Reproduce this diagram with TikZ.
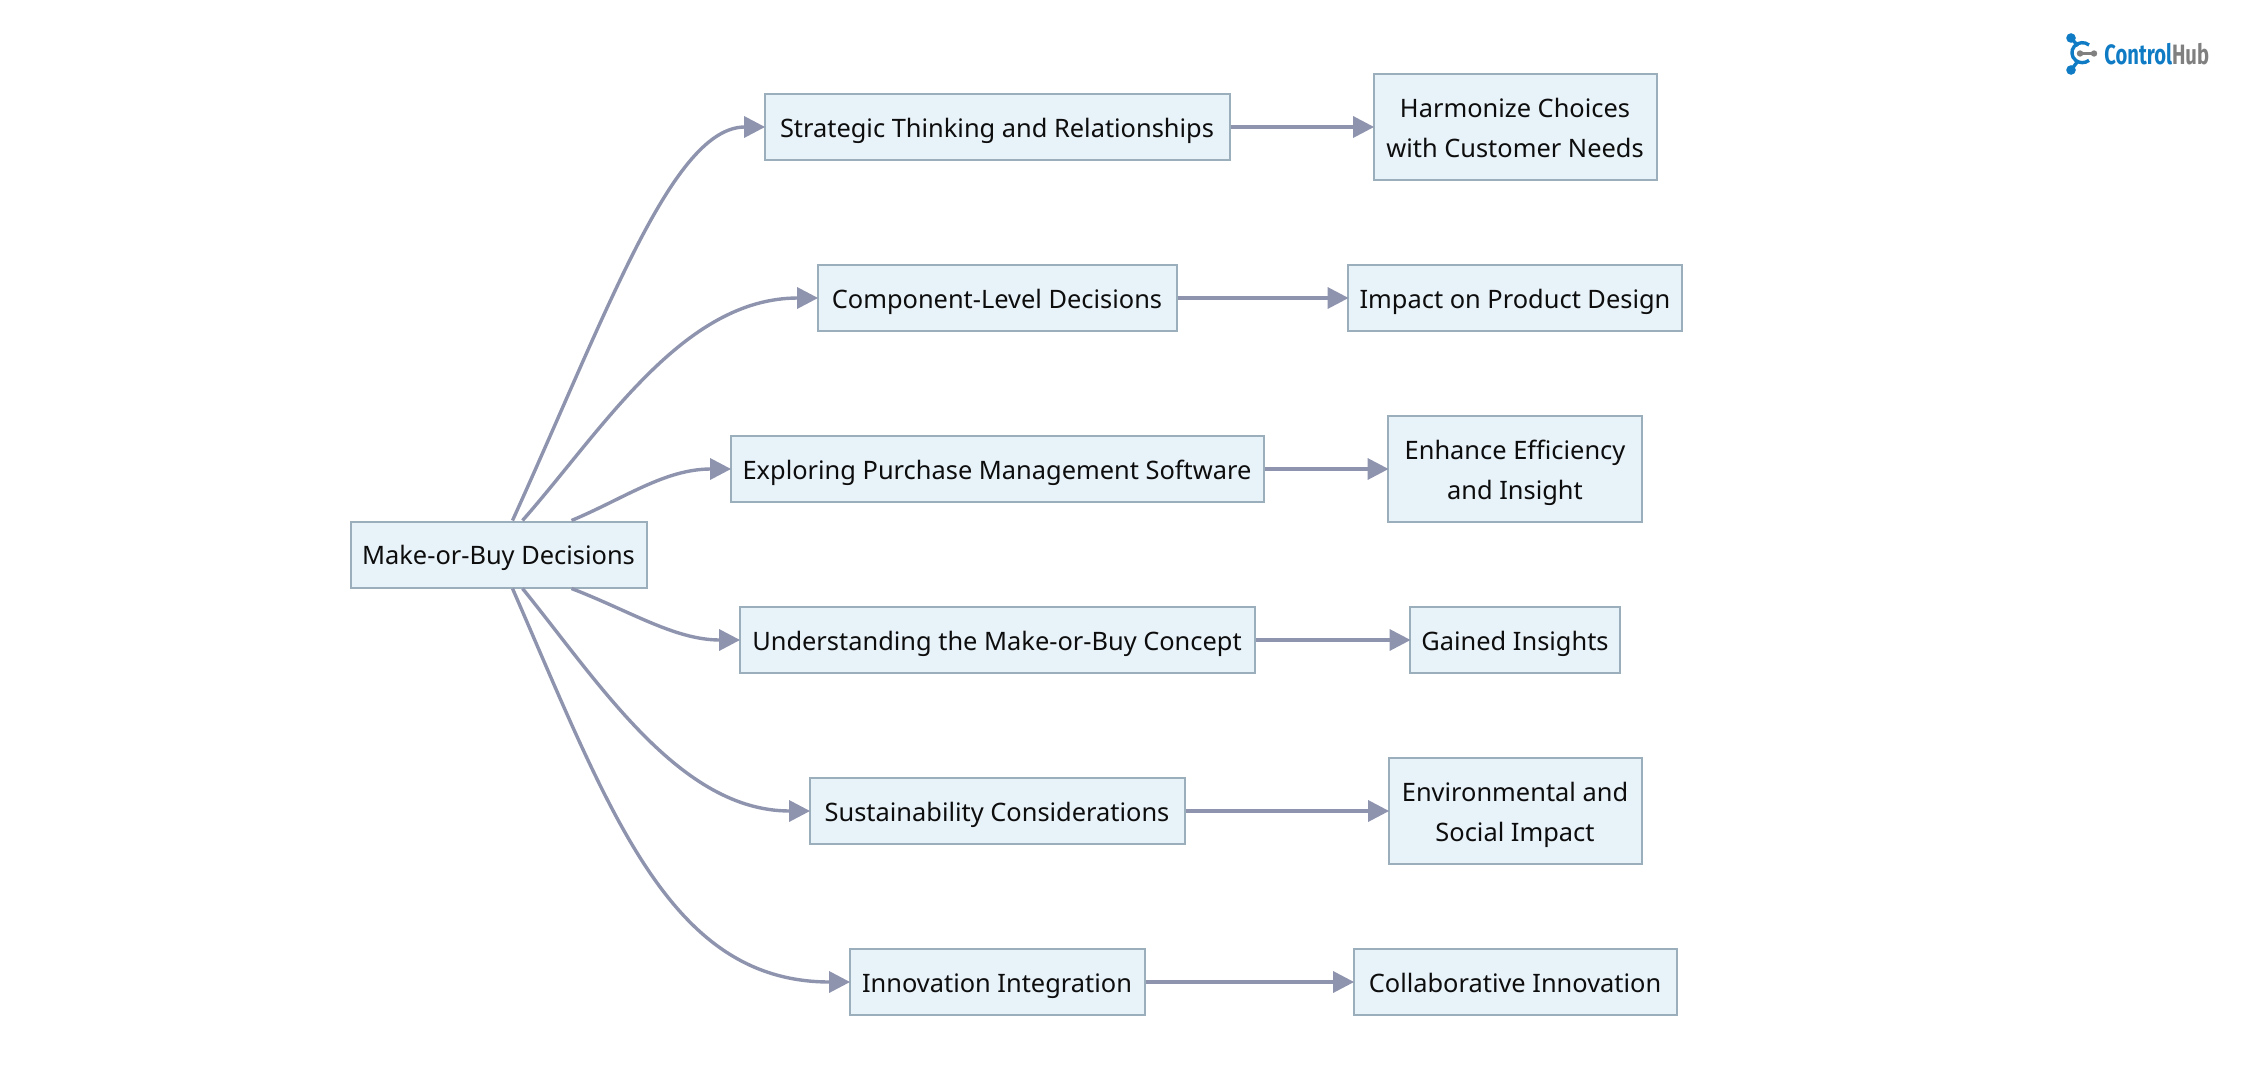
\documentclass[tikz,border=0pt]{standalone}
\usepackage{fontspec}
\setmainfont{Noto Sans}
\newfontfamily\logofont{Fira Sans}
\usetikzlibrary{arrows.meta,calc}
\definecolor{boxfill}{HTML}{E8F2F9}
\definecolor{boxline}{HTML}{9BAEBB}
\definecolor{edgecol}{HTML}{8F94AE}
\definecolor{logoblue}{HTML}{0F7BC4}
\definecolor{logogray}{HTML}{808080}
\tikzset{
 x=0.5pt,y=-0.5pt,
 box/.style={draw=boxline,fill=boxfill,line width=1pt,align=center,inner sep=0pt,font=\fontsize{12.7}{20}\selectfont,text=black!95},
 single/.style={box,minimum height=33pt,text height=12.5pt,text depth=2.5pt},
 double/.style={box,minimum height=53pt,text height=30.5pt,text depth=0pt},
 link/.style={draw=edgecol,line width=1.7pt,shorten >=-0.8pt,-{Triangle[length=10.5pt,width=10.5pt,fill=edgecol]}},
}
\begin{document}
\begin{tikzpicture}
\useasboundingbox (0,0) rectangle (2258,1086);
\node[single,minimum width=148pt] (root) at (498.5,554.5) {Make-or-Buy Decisions};
\node[single,minimum width=232.5pt] (a1) at (997,127) {Strategic Thinking and Relationships};
\node[single,minimum width=179.5pt] (a2) at (997,298) {Component-Level Decisions};
\node[single,minimum width=266.5pt] (a3) at (997,469) {Exploring Purchase Management Software};
\node[single,minimum width=257.5pt] (a4) at (997,640) {Understanding the Make-or-Buy Concept};
\node[single,minimum width=187.5pt] (a5) at (997,811) {Sustainability Considerations};
\node[single,minimum width=147.5pt] (a6) at (997,982) {Innovation Integration};
\node[double,minimum width=141.5pt] (b1) at (1515,127) {Harmonize Choices\\with Customer Needs};
\node[single,minimum width=167pt] (b2) at (1515,298) {Impact on Product Design};
\node[double,minimum width=127pt] (b3) at (1515,469) {Enhance Efficiency\\and Insight};
\node[single,minimum width=105pt] (b4) at (1515,640) {Gained Insights};
\node[double,minimum width=126.5pt] (b5) at (1515,811) {Environmental and\\Social Impact};
\node[single,minimum width=161.5pt] (b6) at (1515,982) {Collaborative Innovation};
\coordinate (t1) at ($(root.north west)+(81.5pt,0)$);
\coordinate (t2) at ($(root.north west)+(86.5pt,0)$);
\coordinate (t3) at ($(root.north west)+(111pt,0)$);
\coordinate (d1) at ($(root.south west)+(81.5pt,0)$);
\coordinate (d2) at ($(root.south west)+(86.5pt,0)$);
\coordinate (d3) at ($(root.south west)+(111pt,0)$);
\draw[link] (t1) .. controls (608,310) and (673,127) .. (a1.west);
\draw[link] (t2) .. controls (603,429) and (683,298) .. (a2.west);
\draw[link] (t3) .. controls (625,498) and (665,469) .. (a3.west);
\draw[link] (d3) .. controls (630,611) and (675,640) .. (a4.west);
\draw[link] (d2) .. controls (600,684) and (680,811) .. (a5.west);
\draw[link] (d1) .. controls (611,815) and (670,982) .. (a6.west);
\foreach \i in {1,...,6}{\draw[link] (a\i.east) -- (a\i.east -| b\i.west);}
\draw[logoblue,line width=1.7pt] (2071,38) -- (2078,46) (2071,70) -- (2078,61);
\fill[logoblue] (2071,38) circle (2.4pt) (2071,70) circle (2.4pt);
\draw[logoblue,line width=1.7pt] (2089,45) arc (50:310:5.2pt and 5pt);
\draw[logogray,line width=1.3pt] (2080,53.5) -- (2092,53.5);
\fill[logogray] (2080,53.5) circle (1.6pt) (2094,53.5) circle (1.6pt);
\node[anchor=west,inner sep=0pt,font=\logofont\bfseries\fontsize{14}{14}\selectfont] (logo) at (2104,54) {\scalebox{0.72}[1]{\textcolor{logoblue}{Control}\textcolor{logogray}{Hub}}};
\end{tikzpicture}
\end{document}
